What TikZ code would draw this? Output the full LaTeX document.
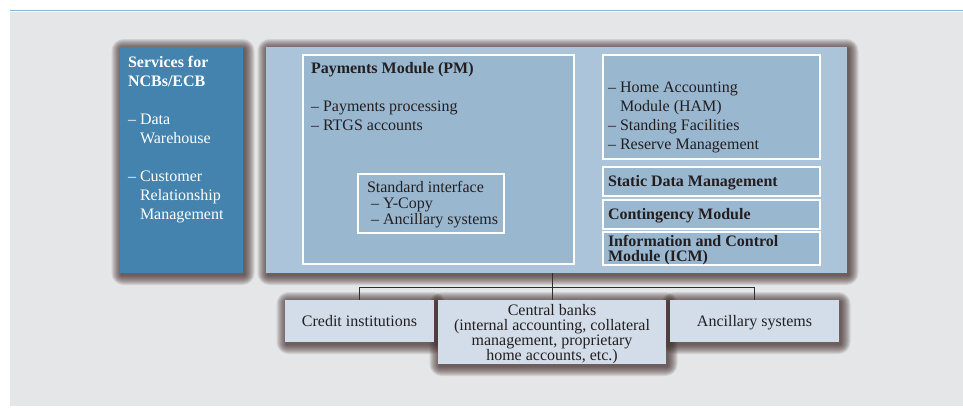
\documentclass[tikz,border=0pt]{standalone}
\usepackage{fontspec}
\setmainfont{Liberation Serif}
\newfontfamily\diagfont{Liberation Serif}
\usetikzlibrary{backgrounds}
\definecolor{topline}{HTML}{8CB2D5}
\definecolor{bggray}{HTML}{E5E6E7}
\definecolor{darkblue}{HTML}{4383AD}
\definecolor{mainblue}{HTML}{ABC4DA}
\definecolor{innerblue}{HTML}{9AB7D0}
\definecolor{paleblue}{HTML}{D3DDE9}
\definecolor{txt}{HTML}{231F20}
\definecolor{linkcol}{HTML}{2F2F2F}
\definecolor{shadowcol}{HTML}{3A2424}
\newcommand{\softshadow}[1]{%
  \foreach \r in {1,...,10}{%
    \fill[shadowcol,opacity=0.105,rounded corners=1.2*\r pt]
      ([shift={(-\r+1.5,-\r+2)}]#1.north west) rectangle ([shift={(\r+1.5,\r+2)}]#1.south east);}}
\begin{document}
\begin{tikzpicture}[x=1pt,y=-1pt,
  panel/.style={draw=none,inner sep=0pt,outer sep=0pt,anchor=north west},
  inbox/.style={panel,fill=innerblue,draw=white,line width=1.2pt},
  lowbox/.style={panel,fill=paleblue},
  txtnode/.style={inner sep=0pt,outer sep=0pt,text=txt,font=\diagfont\fontsize{16}{19}\selectfont},
  link/.style={draw=linkcol,line width=0.9pt}
]
\useasboundingbox (0,0) rectangle (963,410);

% left service box
\node[panel,fill=darkblue,minimum width=123pt,minimum height=226pt] (ncb) at (120,47) {};
\node[txtnode,text=white,anchor=base west] (ncbtext) at (128,67.5) {\begin{tabular}[t]{@{}l@{}}
\textbf{Services for}\\
\textbf{NCBs/ECB}\\
\\
– Data\\
\phantom{– }Warehouse\\
\\
– Customer\\
\phantom{– }Relationship\\
\phantom{– }Management
\end{tabular}};

% main box
\node[panel,fill=mainblue,minimum width=581pt,minimum height=226pt] (main) at (266,47) {};

% payments module
\node[inbox,minimum width=271pt,minimum height=209pt] (pm) at (303,55) {};
\node[txtnode,anchor=base west] (pmtext) at (311,73.5) {\begin{tabular}[t]{@{}l@{}}
\textbf{Payments Module (PM)}\\
\\
– Payments processing\\
– RTGS accounts
\end{tabular}};

% standard interface
\node[inbox,minimum width=146pt,minimum height=59pt] (si) at (358,174) {};
\node[txtnode,anchor=base west,font=\diagfont\fontsize{16}{16}\selectfont] (sitext) at (367,192.5) {\begin{tabular}[t]{@{}l@{}}
Standard interface\\
\hspace*{4pt}– Y-Copy\\
\hspace*{4pt}– Ancillary systems
\end{tabular}};

% right modules
\node[inbox,minimum width=217pt,minimum height=104pt] (ham) at (603,55) {};
\node[txtnode,anchor=base west] (hamtext) at (608,92) {\begin{tabular}[t]{@{}l@{}}
– Home Accounting\\
\phantom{– }Module (HAM)\\
– Standing Facilities\\
– Reserve Management
\end{tabular}};

\node[inbox,minimum width=217pt,minimum height=29pt] (sdm) at (603,167) {};
\node[txtnode,anchor=base west] (sdmtext) at (608,186.5) {\textbf{Static Data Management}};

\node[inbox,minimum width=217pt,minimum height=29pt] (cm) at (603,200) {};
\node[txtnode,anchor=base west] (cmtext) at (608,219) {\textbf{Contingency Module}};

\node[inbox,minimum width=217pt,minimum height=33pt] (icm) at (603,232) {};
\node[txtnode,anchor=base west,font=\diagfont\fontsize{16}{14.5}\selectfont] (icmtext) at (608,246) {\begin{tabular}[t]{@{}l@{}}
\textbf{Information and Control}\\
\textbf{Module (ICM)}
\end{tabular}};

% bottom participants
\node[lowbox,minimum width=149pt,minimum height=42pt] (credit) at (285,300) {};
\node[txtnode,anchor=base] (credittext) at (credit.center |- 0,326.5) {Credit institutions};

\node[lowbox,minimum width=228pt,minimum height=64pt] (central) at (438,300) {};
\node[txtnode,anchor=base,font=\diagfont\fontsize{16}{14.6}\selectfont] (centraltext) at (central.center |- 0,315) {\begin{tabular}[t]{@{}c@{}}
Central banks\\
(internal accounting, collateral\\
management, proprietary\\
home accounts, etc.)
\end{tabular}};

\node[lowbox,minimum width=169pt,minimum height=42pt] (ancil) at (670,300) {};
\node[txtnode,anchor=base] (anciltext) at (ancil.center |- 0,326.5) {Ancillary systems};

% connectors
\coordinate (bus) at (central.north |- 0,287);
\draw[link] (central.north |- main.south) -- (central.north);
\draw[link] (credit.north) -- (credit.north |- bus) -- (ancil.north |- bus) -- (ancil.north);

% background and shadows
\begin{pgfonlayer}{background}
\fill[bggray] (10,12) rectangle (963,405.5);
\draw[topline,line width=1.4pt] (10,10.5) -- (963,10.5);
\softshadow{ncb}
\softshadow{main}
\softshadow{credit}
\softshadow{central}
\softshadow{ancil}
\end{pgfonlayer}
\end{tikzpicture}
\end{document}
